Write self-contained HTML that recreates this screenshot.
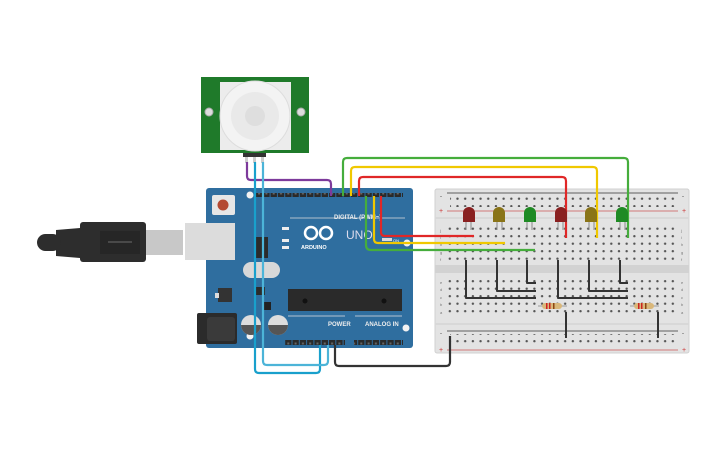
<!DOCTYPE html>
<html><head><meta charset="utf-8"><style>
html,body{margin:0;padding:0;background:#fff;width:725px;height:453px;overflow:hidden}
svg{display:block}
text{font-family:"Liberation Sans",sans-serif}
</style></head><body>
<svg width="725" height="453" viewBox="0 0 725 453" xmlns="http://www.w3.org/2000/svg">
<defs>
<pattern id="dots" x="446.5" y="0" width="7.69" height="400" patternUnits="userSpaceOnUse">
<circle cx="3.8" cy="0" r="1.2" fill="#555"/>
</pattern>
<pattern id="hole" x="446" y="0" width="7.69" height="7.5" patternUnits="userSpaceOnUse">
<circle cx="3.8" cy="3.7" r="1.2" fill="#555"/>
</pattern>
<pattern id="hdr" x="0" y="0" width="7.3" height="10" patternUnits="userSpaceOnUse">
<rect x="0.5" y="0" width="6.3" height="7" fill="#2a2a2a"/><rect x="2.6" y="2.5" width="2" height="2" fill="#666"/>
</pattern>
</defs>

<!-- Breadboard -->
<rect x="435" y="189" width="254" height="164" rx="2" fill="#e3e3e3" stroke="#d0d0d0"/>
<rect x="435" y="265" width="254" height="8" fill="#d2d2d2"/>
<rect x="435" y="217" width="254" height="2" fill="#d8d8d8"/>
<rect x="435" y="323" width="254" height="2" fill="#d8d8d8"/>
<line x1="447" y1="193" x2="678" y2="193" stroke="#333" stroke-width="0.8"/>
<line x1="447" y1="211" x2="678" y2="211" stroke="#c55" stroke-width="0.8"/>
<line x1="447" y1="331" x2="678" y2="331" stroke="#333" stroke-width="0.8"/>
<line x1="447" y1="350" x2="678" y2="350" stroke="#c55" stroke-width="0.8"/>
<text x="440" y="198" font-size="6" fill="#333">-</text><text x="682" y="198" font-size="6" fill="#333">-</text>
<text x="439" y="213" font-size="7" fill="#c33">+</text><text x="682" y="213" font-size="7" fill="#c33">+</text>
<text x="440" y="335" font-size="6" fill="#333">-</text><text x="682" y="335" font-size="6" fill="#333">-</text>
<text x="439" y="352" font-size="7" fill="#c33">+</text><text x="682" y="352" font-size="7" fill="#c33">+</text>
<!-- rail holes -->
<rect x="450" y="195" width="225" height="12" fill="url(#hole)" transform="translate(0,0)"/>
<rect x="450" y="334" width="225" height="12" fill="url(#hole)"/>
<!-- main holes -->
<rect x="446" y="225" width="231" height="37" fill="url(#hole)"/>
<rect x="446" y="277" width="231" height="37" fill="url(#hole)"/>
<g font-size="4" fill="#777">
<text x="440" y="232">j</text><text x="440" y="239">i</text><text x="440" y="246">h</text><text x="440" y="254">g</text><text x="440" y="261">f</text>
<text x="440" y="284">e</text><text x="440" y="291">d</text><text x="440" y="299">c</text><text x="440" y="306">b</text><text x="440" y="314">a</text>
<text x="681" y="232">j</text><text x="681" y="239">i</text><text x="681" y="246">h</text><text x="681" y="254">g</text><text x="681" y="261">f</text>
<text x="681" y="284">e</text><text x="681" y="291">d</text><text x="681" y="299">c</text><text x="681" y="306">b</text><text x="681" y="314">a</text>
</g>

<!-- Arduino -->
<rect x="206" y="188" width="207" height="160" rx="3" fill="#2f6e9f"/>
<rect x="256" y="193" width="147" height="7" fill="url(#hdr)"/>
<rect x="285" y="338" width="60" height="7" fill="url(#hdr)"/>
<rect x="354" y="338" width="49" height="7" fill="url(#hdr)"/>
<rect x="212" y="195" width="23" height="20" rx="2" fill="#e6e6e6"/>
<circle cx="223" cy="205" r="5.5" fill="#b44a32"/>
<circle cx="250" cy="195" r="3.5" fill="#f2f2f2"/>
<circle cx="407" cy="243" r="3.5" fill="#f2f2f2"/>
<circle cx="250" cy="336" r="3.5" fill="#f2f2f2"/>
<circle cx="406" cy="328" r="3.5" fill="#f2f2f2"/>
<rect x="185" y="223" width="50" height="37" fill="#dcdcdc"/>
<rect x="243" y="262" width="37" height="16" rx="8" fill="#d8d8d8"/>
<rect x="256" y="237" width="12" height="21" fill="#2b2b2b"/>
<rect x="256" y="287" width="9" height="8" fill="#2b2b2b"/>
<rect x="218" y="288" width="14" height="14" fill="#333"/><rect x="215" y="293" width="4" height="5" fill="#ddd"/>
<rect x="263" y="302" width="8" height="8" fill="#222"/>
<rect x="197" y="313" width="40" height="31" rx="2" fill="#2b2b2b"/><rect x="207" y="317" width="28" height="24" rx="3" fill="#3a3a3a"/>
<circle cx="251" cy="325" r="10" fill="#ddd"/><path d="M241 325 a10 10 0 0 0 20 0z" fill="#555"/>
<circle cx="278" cy="325" r="10" fill="#ddd"/><path d="M268 325 a10 10 0 0 0 20 0z" fill="#555"/>
<rect x="288" y="289" width="114" height="22" fill="#2a2a2a"/>
<circle cx="305" cy="301" r="2.5" fill="#111"/><circle cx="384" cy="301" r="2.5" fill="#111"/>
<line x1="288" y1="316" x2="345" y2="316" stroke="#e0e0e0" stroke-width="0.8"/>
<line x1="355" y1="316" x2="402" y2="316" stroke="#e0e0e0" stroke-width="0.8"/>
<line x1="290" y1="218" x2="405" y2="218" stroke="#ddd" stroke-width="0.8"/>
<text x="334" y="219" font-size="6" fill="#eee" font-weight="bold">DIGITAL (PWM~)</text>
<text x="328" y="326" font-size="6" fill="#eee" font-weight="bold">POWER</text>
<text x="365" y="326" font-size="6" fill="#eee" font-weight="bold">ANALOG IN</text>
<circle cx="311" cy="233" r="6" fill="none" stroke="#fff" stroke-width="2.5"/>
<circle cx="326" cy="233" r="6" fill="none" stroke="#fff" stroke-width="2.5"/>
<text x="301" y="249" font-size="5.5" fill="#fff" font-weight="bold">ARDUINO</text>
<text x="346" y="239" font-size="12" fill="#dde" >UNO</text>
<rect x="282" y="227" width="7" height="3" fill="#eee"/><rect x="282" y="239" width="7" height="3" fill="#eee"/><rect x="282" y="246" width="7" height="3" fill="#eee"/>
<rect x="382" y="238" width="10" height="3" fill="#ddd"/>
<text x="393" y="242" font-size="4" fill="#fff">ON</text>

<!-- USB plug -->
<rect x="145" y="230" width="38" height="25" fill="#c8c8c8"/>
<rect x="80" y="222" width="66" height="40" rx="3" fill="#2d2d2d"/>
<rect x="100" y="231" width="40" height="23" fill="#262626"/>
<path d="M80 228 L56 230 L56 256 L80 258 Z" fill="#2d2d2d"/>
<rect x="37" y="234" width="24" height="17" rx="8.5" fill="#2d2d2d"/>
<line x1="108" y1="242" x2="132" y2="242" stroke="#555" stroke-width="1.5"/>

<!-- PIR sensor -->
<rect x="201" y="77" width="108" height="76" fill="#1f7a2a"/>
<rect x="220" y="82" width="71" height="68" fill="#ececec"/>
<circle cx="255" cy="116" r="35" fill="#f3f3f3" stroke="#ddd"/>
<circle cx="255" cy="116" r="24" fill="#e9e9e9"/>
<circle cx="255" cy="116" r="10" fill="#dedede"/>
<circle cx="209" cy="112" r="4" fill="#ddd" stroke="#aaa"/><circle cx="301" cy="112" r="4" fill="#ddd" stroke="#aaa"/>
<rect x="243" y="153" width="23" height="4" fill="#333"/>
<rect x="245" y="157" width="3" height="6" fill="#ccc"/><rect x="253" y="157" width="3" height="6" fill="#ccc"/><rect x="261" y="157" width="3" height="6" fill="#ccc"/>

<!-- Wires -->
<g fill="none" stroke-width="2.2" stroke-linejoin="round">
<path d="M247 162 V176 Q247 180 251 180 H327 Q331 180 331 184 V196" stroke="#7d3a9b"/>
<path d="M255 162 V369 Q255 373 259 373 H316 Q320 373 320 369 V345" stroke="#19a0cc"/>
<path d="M263 162 V361 Q263 365 267 365 H324 Q328 365 328 361 V345" stroke="#4cb4d8"/>
<path d="M335 345 V362 Q335 366 339 366 H446 Q450 366 450 362 V336" stroke="#333"/>
<path d="M343 196 V162 Q343 158 347 158 H624 Q628 158 628 162 V238" stroke="#45ad3c"/>
<path d="M351 196 V171 Q351 167 355 167 H593 Q597 167 597 171 V238" stroke="#f0c800"/>
<path d="M359 196 V181 Q359 177 363 177 H562 Q566 177 566 181 V238" stroke="#e02727"/>
<path d="M366 196 V245 Q366 250 371 250 H535" stroke="#45ad3c"/>
<path d="M374 196 V239 Q374 243 378 243 H505" stroke="#f0c800"/>
<path d="M381 196 V232 Q381 236 385 236 H474" stroke="#e02727"/>
<g stroke="#333" stroke-width="2">
<path d="M466 260 V298 H536"/><path d="M497 260 V291 H536"/><path d="M527 260 V283 H536"/>
<path d="M558 260 V298 H628"/><path d="M589 260 V291 H628"/><path d="M620 260 V283 H628"/>
<path d="M566 312 V338"/><path d="M658 312 V338"/>
</g>
</g>
<!-- resistors -->
<g>
<line x1="538" y1="306" x2="567" y2="306" stroke="#999" stroke-width="1"/>
<rect x="542" y="303" width="20" height="6" rx="3" fill="#d9b77a"/>
<rect x="546" y="303" width="1.5" height="6" fill="#c22"/><rect x="549" y="303" width="1.5" height="6" fill="#c22"/><rect x="553" y="303" width="1.5" height="6" fill="#8b4513"/>
<line x1="630" y1="306" x2="659" y2="306" stroke="#999" stroke-width="1"/>
<rect x="634" y="303" width="20" height="6" rx="3" fill="#d9b77a"/>
<rect x="638" y="303" width="1.5" height="6" fill="#c22"/><rect x="641" y="303" width="1.5" height="6" fill="#c22"/><rect x="645" y="303" width="1.5" height="6" fill="#8b4513"/>
</g>
<!-- LEDs -->
<g stroke="#888" stroke-width="1">
<path d="M466 220 V230 M471 220 V230 M497 220 V230 M502 220 V230 M527 220 V230 M532 220 V230 M558 220 V230 M563 220 V230 M589 220 V230 M594 220 V230 M620 220 V230 M625 220 V230"/>
</g>
<g>
<path d="M463 222 V213 a6 6 0 0 1 12 0 V222 Z" fill="#8a2020"/>
<path d="M493 222 V213 a6 6 0 0 1 12 0 V222 Z" fill="#8a7418"/>
<path d="M524 222 V213 a6 6 0 0 1 12 0 V222 Z" fill="#1f8a24"/>
<path d="M555 222 V213 a6 6 0 0 1 12 0 V222 Z" fill="#8a2020"/>
<path d="M585 222 V213 a6 6 0 0 1 12 0 V222 Z" fill="#8a7418"/>
<path d="M616 222 V213 a6 6 0 0 1 12 0 V222 Z" fill="#1f8a24"/>
</g>
</svg>
</body></html>
